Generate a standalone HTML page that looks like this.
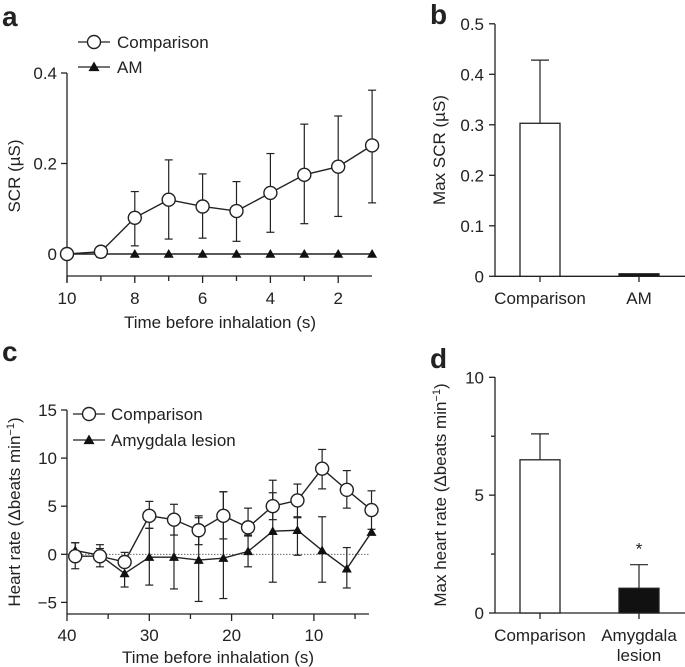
<!DOCTYPE html>
<html><head><meta charset="utf-8">
<style>
body{margin:0;background:#fff;}
svg{display:block;font-family:"Liberation Sans",sans-serif;}
text{fill:#222;}
</style></head>
<body>
<svg id="fig" width="685" height="667" viewBox="0 0 685 667"></svg>
<script>
// ---- Panel a data ----
const aTimes = [10,9,8,7,6,5,4,3,2,1];
const aComp = [0,0.005,0.08,0.12,0.105,0.095,0.135,0.175,0.193,0.24];
const aCompHi = [null,null,0.138,0.208,0.177,0.16,0.222,0.287,0.305,0.362];
const aCompLo = [null,null,0.018,0.033,0.035,0.028,0.048,0.067,0.083,0.113];
const aAM = [0,0,0,0,0,0,0,0,0,0];
const aXTicks = [10,8,6,4,2];
const aXMinor = [9,7,5,3];
const aYTicks = [0,0.2,0.4];
const aYLabels = ["0","0.2","0.4"];
// ---- Panel b data ----
const bCats = ["Comparison","AM"];
const bVals = [0.303,0.005];
const bErr = [0.428,null];
const bYTicks = [0,0.1,0.2,0.3,0.4,0.5];
const bYLabels = ["0","0.1","0.2","0.3","0.4","0.5"];
// ---- Panel c data ----
const cTimes = [39,36,33,30,27,24,21,18,15,12,9,6,3];
const cComp = [-0.2,-0.2,-0.8,4.0,3.6,2.5,4.0,2.8,5.0,5.6,8.9,6.7,4.6];
const cCompHi = [1.2,1.0,0.2,5.5,5.2,4.0,6.5,4.8,7.7,7.3,10.9,8.7,6.6];
const cCompLo = [-1.5,-1.3,null,2.7,2.0,1.0,1.6,2.0,3.6,3.9,6.8,4.8,2.6];
const cAmy = [0.4,-0.1,-2.0,-0.3,-0.3,-0.6,-0.4,0.3,2.4,2.5,0.4,-1.5,2.3];
const cAmyHi = [1.2,0.6,null,2.7,3.4,3.8,6.5,1.9,6.4,3.8,3.9,0.7,null];
const cAmyLo = [null,null,-3.4,-3.2,-3.6,-4.9,-4.6,-1.3,-2.9,-0.1,-2.9,-3.5,null];
const cXTicks = [40,30,20,10];
const cXMinor = [35,25,15,5];
const cYTicks = [-5,0,5,10,15];
const cYLabels = ["\u22125","0","5","10","15"];
// ---- Panel d data ----
const dCats = ["Comparison","Amygdala|lesion"];
const dVals = [6.5,1.05];
const dErr = [7.6,2.05];
const dYTicks = [0,5,10];
const dYMinor = [2.5,7.5];

const FS=17;
const NS="http://www.w3.org/2000/svg";
const svg=document.getElementById('fig');
function mk(tag,attrs,parent,txt){const e=document.createElementNS(NS,tag);for(const k in attrs)e.setAttribute(k,attrs[k]);if(txt!==undefined)e.textContent=txt;(parent||svg).appendChild(e);return e;}
function line(x1,y1,x2,y2,g,w,extra){const l=mk('line',Object.assign({x1,y1,x2,y2,stroke:'#222','stroke-width':w||1.3},extra||{}),g);return l;}

const ax=t=>67+(10-t)*33.9, ay=v=>254-v*452.5;
const bx=i=>[540,639][i], by=v=>276.3-v*505;
const cx=t=>67+(40-t)*8.23, cy=v=>554.3-v*9.62;
const dx=i=>[540,639][i], dy=v=>613-v*23.57;

function letter(ch,x,y){const t=mk('text',{x,y,'font-size':28,'font-weight':'bold'},svg,ch);}
letter('a',2,26);letter('b',430,24);letter('c',2,361);letter('d',430,368);

function errbar(g,x,v0,v1,fy,cap){line(x,fy(v0),x,fy(v1),g,1.2);line(x-cap,fy(v1),x+cap,fy(v1),g,1.2);}
function tri(g,x,y,s){mk('polygon',{points:`${x},${y-s} ${x-s},${y+s*0.75} ${x+s},${y+s*0.75}`,fill:'#111'},g);}
function circ(g,x,y,r){mk('circle',{cx:x,cy:y,r:r,fill:'#fff',stroke:'#222','stroke-width':1.4},g);}

// ===== Panel a =====
const ga=mk('g',{});
line(67,73,67,282,ga);line(67,276,372,276,ga);
aYTicks.forEach((v,i)=>{line(61,ay(v),67,ay(v),ga);const t=mk('text',{x:57,y:ay(v)+6,'font-size':FS,'text-anchor':'end'},ga,aYLabels[i]);});
aXTicks.forEach(v=>{line(ax(v),276,ax(v),283,ga);const t=mk('text',{x:ax(v),y:304,'font-size':FS,'text-anchor':'middle'},ga,String(v));});
aXMinor.forEach(v=>line(ax(v),276,ax(v),281,ga));
{const t=mk('text',{x:220,y:328,'font-size':FS,'text-anchor':'middle'},ga,'Time before inhalation (s)');}
{const t=mk('text',{x:0,y:0,'font-size':FS,'text-anchor':'middle',transform:'translate(20,176) rotate(-90)'},ga,'SCR (\u00b5S)');}
aTimes.forEach((t,i)=>{if(aCompHi[i]!=null){errbar(ga,ax(t),aComp[i],aCompHi[i],ay,4);errbar(ga,ax(t),aComp[i],aCompLo[i],ay,4);}});
mk('polyline',{points:aTimes.map((t,i)=>ax(t)+','+ay(aAM[i])).join(' '),fill:'none',stroke:'#222','stroke-width':1.4},ga);
mk('polyline',{points:aTimes.map((t,i)=>ax(t)+','+ay(aComp[i])).join(' '),fill:'none',stroke:'#222','stroke-width':1.4},ga);
aTimes.forEach((t,i)=>tri(ga,ax(t),ay(aAM[i]),5));
aTimes.forEach((t,i)=>circ(ga,ax(t),ay(aComp[i]),6.5));
line(78,42,110,42,ga);circ(ga,94,42,6.5);
{const t=mk('text',{x:117,y:48,'font-size':FS},ga,'Comparison');}
line(78,67,110,67,ga);tri(ga,94,67,5.5);
{const t=mk('text',{x:117,y:73,'font-size':FS},ga,'AM');}

// ===== Panel b =====
const gb=mk('g',{});
line(495,24,495,276.3,gb);line(495,276.3,685,276.3,gb);
bYTicks.forEach((v,i)=>{line(489,by(v),495,by(v),gb);const t=mk('text',{x:484,y:by(v)+6,'font-size':FS,'text-anchor':'end'},gb,bYLabels[i]);});
{const t=mk('text',{x:0,y:0,'font-size':FS,'text-anchor':'middle',transform:'translate(445,150) rotate(-90)'},gb,'Max SCR (\u00b5S)');}
bCats.forEach((c,i)=>{
 if(bErr[i]!=null)errbar(gb,bx(i),bVals[i],bErr[i],by,9);
 const r=mk('rect',{x:bx(i)-20,y:by(bVals[i]),width:40,height:Math.max(276.3-by(bVals[i]),2.5),fill:i?'#111':'#fff',stroke:'#222','stroke-width':1.3},gb);
 
 line(bx(i),276.3,bx(i),282,gb);
 const t=mk('text',{x:bx(i),y:304,'font-size':FS,'text-anchor':'middle'},gb,c);
});

// ===== Panel c =====
const gc=mk('g',{});
line(67,410,67,614,gc);line(67,614,369,614,gc);
line(67,cy(0),369,cy(0),gc,0.8,{'stroke-dasharray':'1.5,1.5',stroke:'#555'});
cYTicks.forEach((v,i)=>{line(61,cy(v),67,cy(v),gc);const t=mk('text',{x:57,y:cy(v)+6,'font-size':FS,'text-anchor':'end'},gc,cYLabels[i]);});
cXTicks.forEach(v=>{line(cx(v),614,cx(v),621,gc);const t=mk('text',{x:cx(v),y:641,'font-size':FS,'text-anchor':'middle'},gc,String(v));});
cXMinor.forEach(v=>line(cx(v),614,cx(v),619,gc));
{const t=mk('text',{x:218,y:663,'font-size':FS,'text-anchor':'middle'},gc,'Time before inhalation (s)');}
{const t=mk('text',{x:0,y:0,'font-size':FS,'text-anchor':'middle',transform:'translate(20,512) rotate(-90)'},gc);t.innerHTML='Heart rate (\u0394beats min<tspan dy="-6" font-size="11">\u22121</tspan><tspan dy="6">)</tspan>';}
cTimes.forEach((t,i)=>{
 if(cCompHi[i]!=null)errbar(gc,cx(t),cComp[i],cCompHi[i],cy,4);
 if(cCompLo[i]!=null)errbar(gc,cx(t),cComp[i],cCompLo[i],cy,4);
 if(cAmyHi[i]!=null)errbar(gc,cx(t),cAmy[i],cAmyHi[i],cy,4);
 if(cAmyLo[i]!=null)errbar(gc,cx(t),cAmy[i],cAmyLo[i],cy,4);
});
mk('polyline',{points:cTimes.map((t,i)=>cx(t)+','+cy(cAmy[i])).join(' '),fill:'none',stroke:'#222','stroke-width':1.4},gc);
mk('polyline',{points:cTimes.map((t,i)=>cx(t)+','+cy(cComp[i])).join(' '),fill:'none',stroke:'#222','stroke-width':1.4},gc);
cTimes.forEach((t,i)=>tri(gc,cx(t),cy(cAmy[i]),5));
cTimes.forEach((t,i)=>circ(gc,cx(t),cy(cComp[i]),6.5));
line(73,414,105,414,gc);circ(gc,89,414,6.5);
{const t=mk('text',{x:111,y:420,'font-size':FS},gc,'Comparison');}
line(73,440,105,440,gc);tri(gc,89,440,5.5);
{const t=mk('text',{x:111,y:446,'font-size':FS},gc,'Amygdala lesion');}

// ===== Panel d =====
const gd=mk('g',{});
line(495,377,495,613,gd);line(495,613,685,613,gd);
dYTicks.forEach(v=>{line(489,dy(v),495,dy(v),gd);const t=mk('text',{x:484,y:dy(v)+6,'font-size':FS,'text-anchor':'end'},gd,String(v));});
dYMinor.forEach(v=>line(491,dy(v),495,dy(v),gd));
{const t=mk('text',{x:0,y:0,'font-size':FS,'text-anchor':'middle',transform:'translate(446,495) rotate(-90)'},gd);t.innerHTML='Max heart rate (\u0394beats min<tspan dy="-6" font-size="11">\u22121</tspan><tspan dy="6">)</tspan>';}
dCats.forEach((c,i)=>{
 errbar(gd,dx(i),dVals[i],dErr[i],dy,9);
 const r=mk('rect',{x:dx(i)-20,y:dy(dVals[i]),width:40,height:613-dy(dVals[i]),fill:i?'#111':'#fff',stroke:'#222','stroke-width':1.3},gd);
 
 line(dx(i),613,dx(i),619,gd);
 c.split('|').forEach((p,j)=>{const t=mk('text',{x:dx(i),y:641+j*20,'font-size':FS,'text-anchor':'middle'},gd,p);});
});
{const t=mk('text',{x:dx(1),y:dy(dErr[1])-10,'font-size':FS,'text-anchor':'middle'},gd,'*');}
</script>
</body></html>
